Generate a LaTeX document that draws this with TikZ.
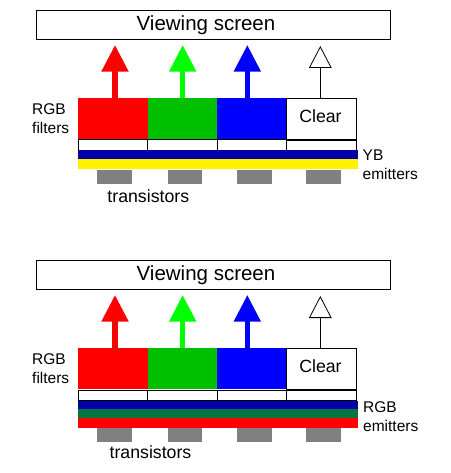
\documentclass[tikz,border=0pt]{standalone}
\usepackage{fontspec}
\setmainfont{Liberation Sans}
\usepackage{tikz}
\usetikzlibrary{
	arrows.meta
}

\definecolor{fgreen}{RGB}{0,192,0}
\definecolor{lgreen}{RGB}{0,255,0}
\definecolor{bandblue}{RGB}{0,0,170}
\definecolor{bandgreen}{RGB}{0,120,64}
\definecolor{tgray}{RGB}{128,128,128}

\tikzset{
	screen/.style={draw,line width=0.8pt,minimum width=354pt,minimum height=28.6pt,inner sep=0pt},
	filter/.style={minimum width=69.5pt,minimum height=41pt,inner sep=0pt},
	strip/.style={draw,line width=0.8pt,fill=white,minimum width=69.5pt,minimum height=10.7pt,inner sep=0pt,anchor=north},
	band/.style={minimum width=279.5pt,inner sep=0pt},
	transistor/.style={fill=tgray,minimum width=34.4pt,minimum height=14.2pt,inner sep=0pt},
	light/.style={line width=5.3pt,-{Triangle[length=26.7pt,width=26pt]}},
	clearlight/.style={line width=0.8pt,-{Triangle[open,length=22pt,width=22.7pt]}},
	big/.style={inner sep=0pt,font=\fontsize{20.5}{24}\selectfont},
	mid/.style={inner sep=0pt,font=\fontsize{17.7}{21}\selectfont},
	lbl/.style={inner sep=0pt,font=\fontsize{15.5}{19}\selectfont,align=left,anchor=west}
}

\begin{document}
\begin{tikzpicture}[x=1pt,y=-1pt]
	\useasboundingbox (0,0) rectangle (450,473);

	% parts both panels share
	\foreach \p/\dy in {u/0,l/250}{
		\begin{scope}[shift={(0,\dy)}]
			\node[screen] (\p scr) at (213.8,25) {};
			\node[big]    (\p txt) at (206,25) {Viewing screen};

			\node[filter,fill=red]    (\p f1) at (113,118.8) {};
			\node[filter,fill=fgreen] (\p f2) at (182.5,118.8) {};
			\node[filter,fill=blue]   (\p f3) at (252,118.8) {};
			\node[filter,draw,line width=0.8pt] (\p f4) at (321.5,118.8) {};
			\node[mid] (\p clr) at (320.5,116) {Clear};

			\foreach \i in {1,...,4}
				\node[strip] (\p s\i) at (\p f\i.south) {};

			\foreach \i/\c/\x in {1/red/115,2/lgreen/182.7,3/blue/247.3}{
				\coordinate (\p t\i) at (\x,45);
				\draw[light,\c] (\p f\i.north -| \p t\i) -- (\p t\i);
			}
			\coordinate (\p t4) at (320.3,46);
			\draw[clearlight] (\p f4.north -| \p t4) -- (\p t4);

			\node[lbl] (\p rgb) at (32,119) {RGB\\filters};
		\end{scope}
	}

	% upper panel: YB emitters
	\node[band,fill=bandblue,minimum height=9pt] (ub1) at (218,154.5) {};
	\node[band,fill=yellow,minimum height=10pt]  (ub2) at (218,164) {};
	\foreach \i/\x in {1/114.5,2/185,3/254.5,4/323.5}
		\node[transistor] (utr\i) at (\x,177.2) {};
	\node[mid] (utrl) at (148.3,196.3) {transistors};
	\node[lbl] (uem) at (362.5,164.8) {YB\\emitters};

	% lower panel: RGB emitters
	\node[band,fill=bandblue,minimum height=8pt]    (lb1) at (218,405) {};
	\node[band,fill=bandgreen,minimum height=8.7pt] (lb2) at (218,413.35) {};
	\node[band,fill=red,minimum height=10pt]        (lb3) at (218,422.7) {};
	\foreach \i/\x in {1/114.5,2/185,3/254.5,4/323.5}
		\node[transistor] (ltr\i) at (\x,435.3) {};
	\node[mid] (ltrl) at (150.5,452) {transistors};
	\node[lbl] (lem) at (363,417) {RGB\\emitters};
\end{tikzpicture}
\end{document}
